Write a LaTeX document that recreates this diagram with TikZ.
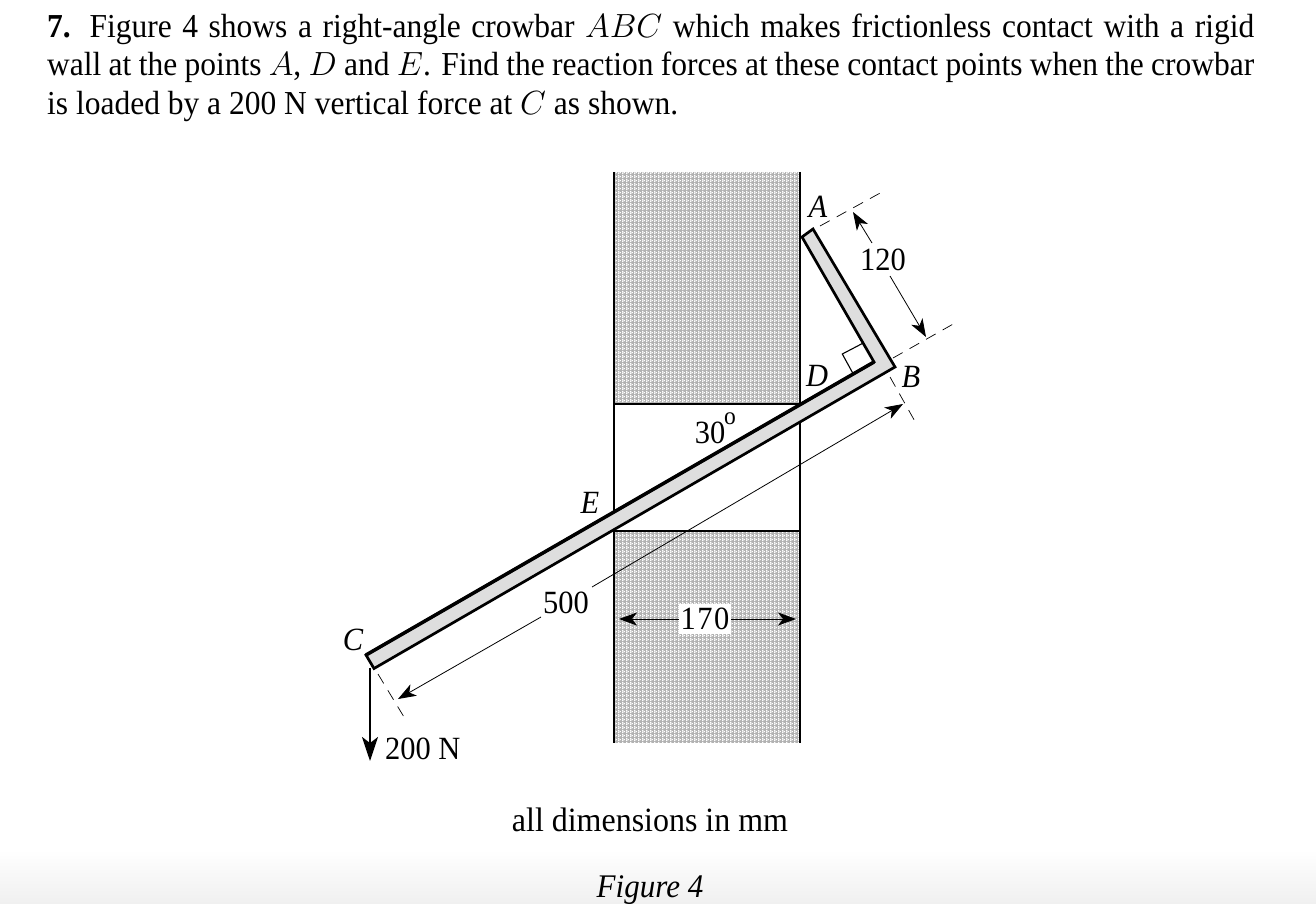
\documentclass[tikz,border=0pt]{standalone}
\usepackage{fix-cm}
\usepackage{fontspec}
\setmainfont{Liberation Serif}[FakeStretch=0.94]
\usetikzlibrary{arrows.meta,patterns,shadings}
\definecolor{barfill}{gray}{0.87}
\definecolor{wallbase}{gray}{0.70}
\definecolor{footgray}{gray}{0.94}
\pgfdeclarepatternformonly{wallmesh}{\pgfqpoint{0pt}{0pt}}{\pgfqpoint{4.3pt}{4.3pt}}{\pgfqpoint{4.3pt}{4.3pt}}{
  \pgfpathrectangle{\pgfqpoint{0pt}{0pt}}{\pgfqpoint{1.6pt}{1.6pt}}
  \pgfpathrectangle{\pgfqpoint{0pt}{2.15pt}}{\pgfqpoint{1.6pt}{1.6pt}}
  \pgfpathrectangle{\pgfqpoint{2.15pt}{1.05pt}}{\pgfqpoint{1.2pt}{1.2pt}}
  \pgfusepath{fill}}
\tikzset{
  wall/.style={line width=2.7pt,black},
  dashline/.style={line width=0.7pt,dash pattern=on 11pt off 8pt},
  dimarrow/.style={line width=0.8pt,-{Stealth[length=18pt,width=13pt,inset=5pt]}},
  lab/.style={inner sep=0pt,font=\fontsize{32.4}{34}\selectfont},
  para/.style={inner sep=0pt,anchor=base west,font=\fontsize{33.5}{38}\selectfont},
}
\begin{document}
\begin{tikzpicture}[x=1pt,y=-1pt]
\useasboundingbox (0,0) rectangle (1316,904);
\fill[white] (0,0) rectangle (1316,904);
\shade[top color=white,bottom color=footgray] (0,850) rectangle (1316,904);
% text
\node[para] (l1) at (47,38) {\makebox[1207pt][s]{\textbf{7.} Figure 4 shows a right-angle crowbar $ABC$ which makes frictionless contact with a rigid}};
\node[para] (l2) at (47,76) {\makebox[1207pt][s]{wall at the points $A$, $D$ and $E$. Find the reaction forces at these contact points when the crowbar}};
\node[para] (l3) at (47,115) {is loaded by a 200 N vertical force at $C$ as shown.};
% walls
\foreach \a/\b in {172/404,531/743}{
  \fill[wallbase] (614,\a) rectangle (800,\b);
  \fill[pattern=wallmesh,pattern color=white] (614,\a) rectangle (800,\b);
}
\coordinate (wtl) at (614,172); \coordinate (wtr) at (800,172);
\coordinate (ubl) at (614,404); \coordinate (ubr) at (800,404);
\coordinate (lbl) at (614,531); \coordinate (lbr) at (800,531);
\coordinate (wbl) at (614,743); \coordinate (wbr) at (800,743);
\draw[wall] (wtl) -- (wbl);
\draw[wall] (wtr) -- (wbr);
\draw[wall] (ubl) -- (ubr);
\draw[wall] (lbl) -- (lbr);
% crowbar
\coordinate (A1) at (802,237);
\coordinate (A2) at (813,229);
\coordinate (B) at (895,367);
\coordinate (C2) at (374,668.5);
\coordinate (C1) at (366,655);
\coordinate (In) at (874,362);
\draw[line width=2.7pt,fill=barfill,line join=miter] (A1) -- (A2) -- (B) -- (C2) -- (C1) -- (In) -- cycle;
\draw[line width=3.5pt] (C1) -- (In);
% right angle
\coordinate (r1) at (862.7,343.3);
\coordinate (r2) at (842.3,354);
\coordinate (r3) at (852.7,373);
\draw[line width=1.1pt] (r1) -- (r2) -- (r3);
% extension lines
\coordinate (ea1) at (820,226); \coordinate (ea2) at (882,192);
\coordinate (eb1) at (893,358); \coordinate (eb2) at (955,323);
\coordinate (ec1) at (890,377); \coordinate (ec2) at (917,425);
\coordinate (ed1) at (378,674); \coordinate (ed2) at (407,722);
\draw[dashline] (ea1) -- (ea2);
\draw[dashline] (eb1) -- (eb2);
\draw[dashline] (ec1) -- (ec2);
\draw[dashline] (ed1) -- (ed2);
% dim 120
\coordinate (d1a) at (872,243); \coordinate (d1b) at (853,212);
\coordinate (d1c) at (890,276); \coordinate (d1d) at (926,337);
\draw[dimarrow] (d1a) -- (d1b);
\draw[dimarrow] (d1c) -- (d1d);
% dim 500
\coordinate (d2a) at (592,587); \coordinate (d2b) at (903,404);
\coordinate (d2c) at (541,617); \coordinate (d2d) at (398,699);
\draw[dimarrow] (d2a) -- (d2b);
\draw[dimarrow] (d2c) -- (d2d);
% dim 170
\coordinate (d3a) at (705,619); \coordinate (d3b) at (619,619); \coordinate (d3c) at (796,619);
\draw[dimarrow] (d3a) -- (d3b);
\draw[dimarrow] (d3a) -- (d3c);
\node[lab,fill=white,minimum width=52pt,minimum height=30pt] (n170) at (705,619) {1\kern1.5pt7\kern1.5pt0};
% force
\coordinate (f1) at (370,668); \coordinate (f2) at (370,761);
\draw[line width=2.4pt,-{Stealth[length=24pt,width=16pt,inset=6pt]}] (f1) -- (f2);
% labels
\node[lab] (nA) at (818,207) {\itshape A};
\node[lab] (nB) at (911,377) {\itshape B};
\node[lab] (nC) at (353,640) {\itshape C};
\node[lab] (nD) at (817,376) {\itshape D};
\node[lab] (nE) at (590,503) {\itshape E};
\node[lab] (n120) at (883,260) {120};
\node[lab] (n500) at (566,603) {500};
\node[lab] (n30) at (710,433) {30};
\node[lab] (ndeg) at (730,419) {\fontsize{25}{27}\selectfont o};
\node[lab,anchor=west] (n200) at (385,749) {200 N};
\node[lab,font=\fontsize{34}{36}\selectfont] (nall) at (650,820) {all dimensions in mm};
\node[lab,font=\fontsize{33}{35}\selectfont] (nfig) at (650,890) {\itshape Figure 4};
\end{tikzpicture}
\end{document}
